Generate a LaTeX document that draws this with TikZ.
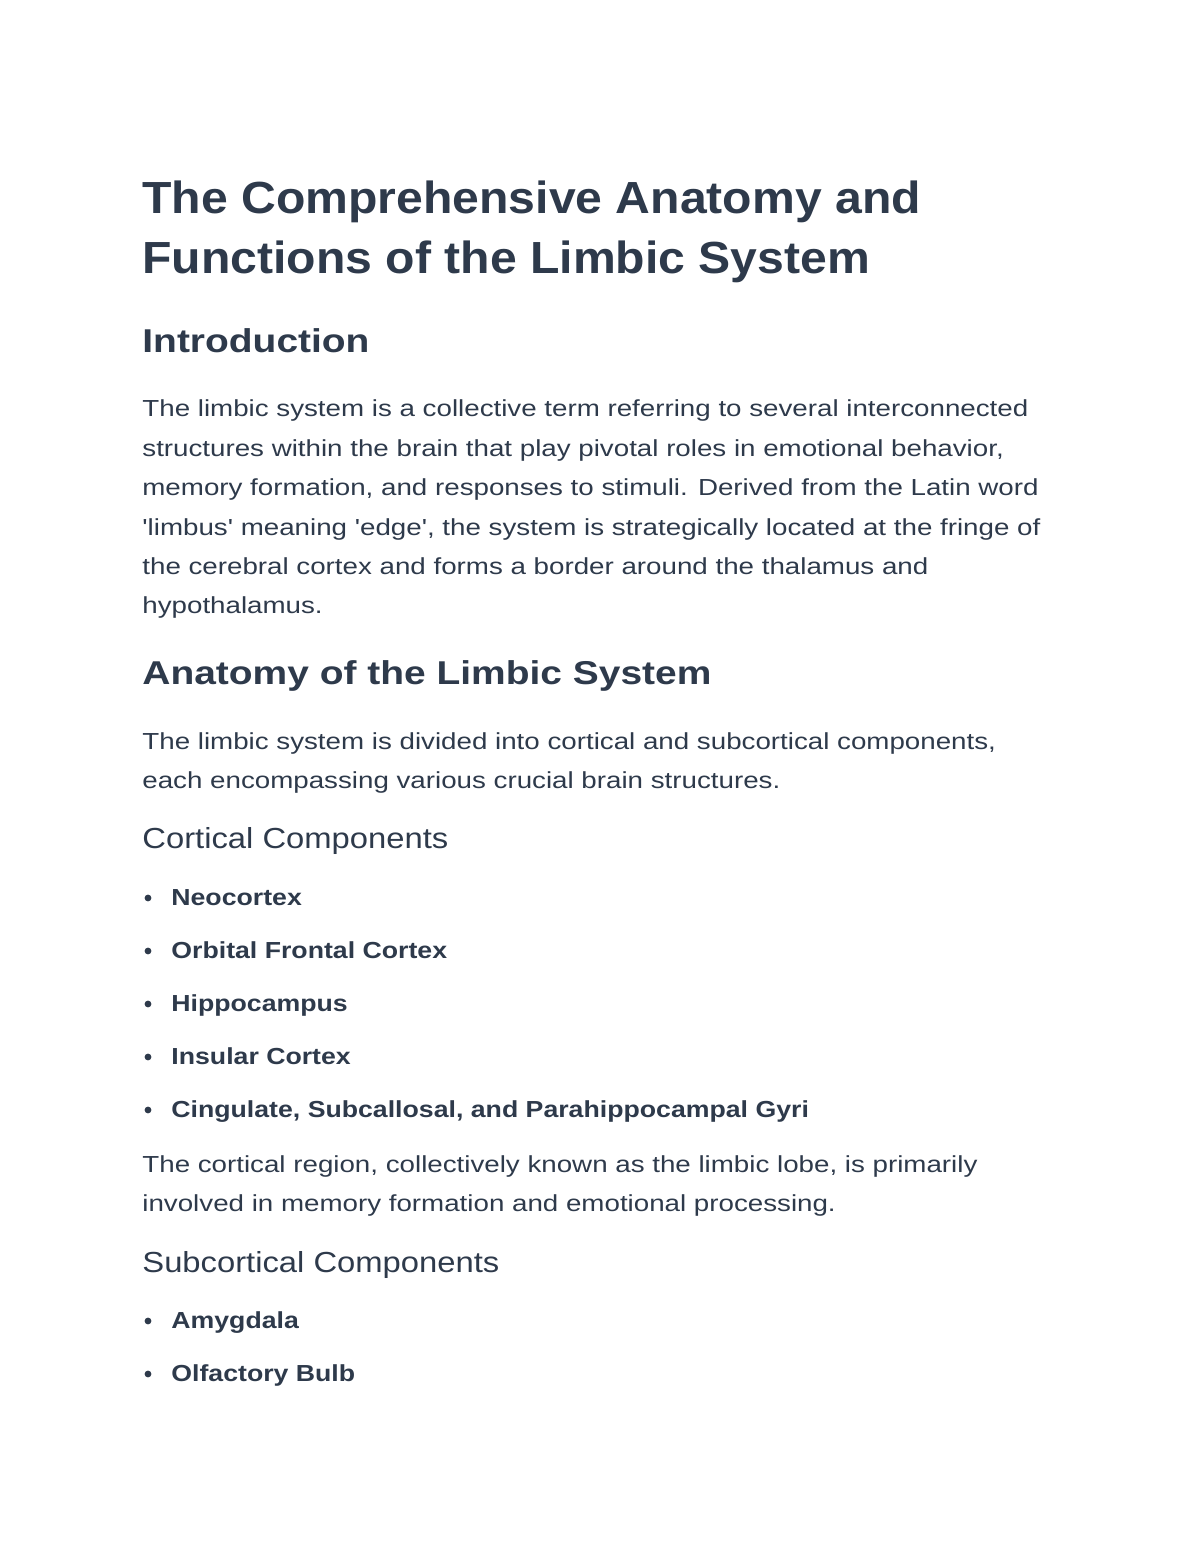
\documentclass[tikz,border=0pt]{standalone}
\usepackage{fontspec}
\setmainfont{Liberation Sans}
\newfontfamily\fbody[FakeStretch=1.195]{Liberation Sans}
\newfontfamily\ftitle[FakeStretch=1.07]{Liberation Sans Bold}
\newfontfamily\fhead[FakeStretch=1.18]{Liberation Sans Bold}
\newfontfamily\fhtwo[FakeStretch=1.13]{Liberation Sans}
\newfontfamily\fitem[FakeStretch=1.15]{Liberation Sans Bold}
\newcommand{\sq}{\symbol{"0027}}
\definecolor{ink}{HTML}{2E3A4B}
\begin{document}
\begin{tikzpicture}[x=0.5pt,y=-0.5pt,
  every node/.style={anchor=base west,inner sep=0pt,text=ink},
  title/.style={font=\fontsize{22.5}{27}\ftitle},
  hone/.style={font=\fontsize{16.5}{20}\fhead},
  htwo/.style={font=\fontsize{14.5}{18}\fhtwo},
  body/.style={font=\fontsize{11.6}{14}\fbody},
  item/.style={font=\fontsize{11.6}{14}\fitem},
  dot/.style={circle,fill=ink,minimum size=3.4pt,inner sep=0pt,anchor=center}]
\useasboundingbox (0,0) rectangle (1200,1553);
\node[title] (t1) at (142,213) {The Comprehensive Anatomy and};
\node[title] (t2) at (142,273) {Functions of the Limbic System};
\node[hone] (h1) at (142,352) {Introduction};
\node[body] (p1) at (142,416) {The limbic system is a collective term referring to several interconnected};
\node[body] (p2) at (142,456) {structures within the brain that play pivotal roles in emotional behavior,};
\node[body] (p3) at (142,495) {memory formation, and responses to stimuli. Derived from the Latin word};
\node[body] (p4) at (142,535) {\sq limbus\sq\ meaning \sq edge\sq, the system is strategically located at the fringe of};
\node[body] (p5) at (142,574) {the cerebral cortex and forms a border around the thalamus and};
\node[body] (p6) at (142,613) {hypothalamus.};
\node[hone] (h2) at (142,684) {Anatomy of the Limbic System};
\node[body] (q1) at (142,749) {The limbic system is divided into cortical and subcortical components,};
\node[body] (q2) at (142,788) {each encompassing various crucial brain structures.};
\node[htwo] (h3) at (142,848) {Cortical Components};
\foreach \y/\t [count=\i] in {898/Neocortex,951/Orbital Frontal Cortex,1004/Hippocampus,1057/Insular Cortex,1110/{Cingulate, Subcallosal, and Parahippocampal Gyri}}{
  \node[dot] (d\i) at (148,\y) {};
  \node[item] (i\i) at (171,\y+7) {\t};
}
\node[body] (r1) at (142,1172) {The cortical region, collectively known as the limbic lobe, is primarily};
\node[body] (r2) at (142,1211) {involved in memory formation and emotional processing.};
\node[htwo] (h4) at (142,1272) {Subcortical Components};
\foreach \y/\t [count=\i] in {1321/Amygdala,1374/Olfactory Bulb}{
  \node[dot] (e\i) at (148,\y) {};
  \node[item] (j\i) at (171,\y+7) {\t};
}
\end{tikzpicture}
\end{document}
